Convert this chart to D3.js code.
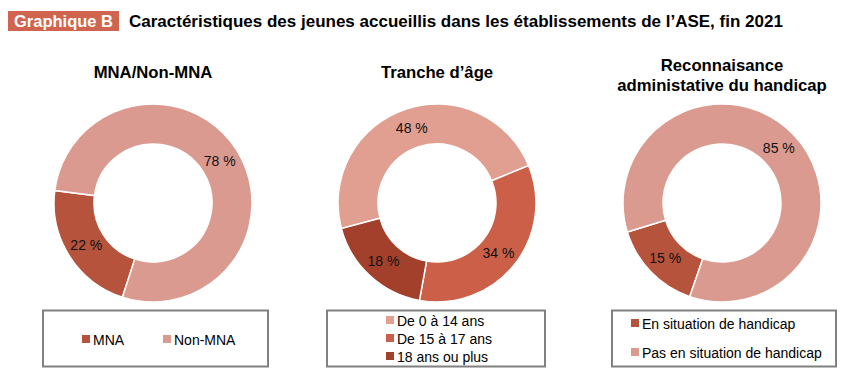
<!DOCTYPE html>
<html>
<head>
<meta charset="utf-8">
<script src="https://cdn.jsdelivr.net/npm/d3@7"></script>
<style>
  body { margin: 0; background: #fff; }
  text { font-family: "Liberation Sans", Arial, sans-serif; }
</style>
</head>
<body>
<svg id="chart" width="860" height="389"></svg>
<script>
// Data
const mnaLabels = ["MNA", "Non-MNA"];
const mnaValues = [22, 78];

const ageLabels = ["De 0 à 14 ans", "De 15 à 17 ans", "18 ans ou plus"];
const ageValues = [48, 34, 18];

const handiLabels = ["En situation de handicap", "Pas en situation de handicap"];
const handiValues = [15, 85];

const DONUTS = [
    {
        title: ["MNA/Non-MNA"],
        labels: mnaLabels,
        values: mnaValues,
        colors: ["#b5533c", "#db9a90"],
        cx: 153, startDeg: 198,
        legend: { x: 43, w: 225, layout: "row", xs: [82, 163], y: 339 },
    },
    {
        title: ["Tranche d’âge"],
        labels: ageLabels,
        values: ageValues,
        colors: ["#e19f92", "#cc5f48", "#a3402c"],
        cx: 437, startDeg: 255,
        legend: { x: 327, w: 218, layout: "col", x0: 386, ys: [320, 338, 356] },
    },
    {
        title: ["Reconnaisance", "administative du handicap"],
        labels: handiLabels,
        values: handiValues,
        colors: ["#b5533c", "#db9a90"],
        cx: 722, startDeg: 199,
        legend: { x: 612, w: 224, layout: "col", x0: 631, ys: [323, 352] },
    },
];

const svg = d3.select("#chart");
const cy = 203, rOuter = 99, rInner = 59;

// Header
svg.append("rect").attr("x", 8).attr("y", 11).attr("width", 111).attr("height", 20)
    .attr("fill", "#d0644e");
svg.append("text").attr("x", 63.5).attr("y", 27).attr("text-anchor", "middle")
    .attr("fill", "#fff").attr("font-weight", "bold").attr("font-size", 16.5)
    .text("Graphique B");
svg.append("text").attr("x", 129).attr("y", 27)
    .attr("fill", "#000").attr("font-weight", "bold").attr("font-size", 17)
    .text("Caractéristiques des jeunes accueillis dans les établissements de l’ASE, fin 2021");

DONUTS.forEach((c) => {
    const g = svg.append("g").attr("transform", `translate(${c.cx},${cy})`);

    const pie = d3.pie().sort(null)
        .startAngle(c.startDeg * Math.PI / 180)
        .endAngle(c.startDeg * Math.PI / 180 + 2 * Math.PI);
    const arc = d3.arc().innerRadius(rInner).outerRadius(rOuter);
    const arcs = pie(c.values);

    g.selectAll("path").data(arcs).join("path")
        .attr("d", arc)
        .attr("fill", (d, i) => c.colors[i])
        .attr("stroke", "#fff").attr("stroke-width", 1.5);

    g.selectAll("text.val").data(arcs).join("text")
        .attr("class", "val")
        .attr("transform", (d) => `translate(${arc.centroid(d)})`)
        .attr("text-anchor", "middle").attr("dy", "0.35em")
        .attr("font-size", 14).attr("fill", "#111")
        .text((d) => `${d.data} %`);

    // Title
    const t0 = c.title.length === 1 ? 78 : 71;
    c.title.forEach((line, i) => {
        svg.append("text").attr("x", c.cx).attr("y", t0 + i * 20)
            .attr("text-anchor", "middle").attr("font-weight", "bold")
            .attr("font-size", 16.7).attr("fill", "#000").text(line);
    });

    // Legend
    const L = c.legend;
    svg.append("rect").attr("x", L.x).attr("y", 310.5).attr("width", L.w).attr("height", 56)
        .attr("fill", "#fff").attr("stroke", "#808080").attr("stroke-width", 2);
    c.labels.forEach((lab, i) => {
        const mx = L.layout === "row" ? L.xs[i] : L.x0;
        const my = L.layout === "row" ? L.y : L.ys[i];
        svg.append("rect").attr("x", mx).attr("y", my - 4).attr("width", 8).attr("height", 8)
            .attr("fill", c.colors[i]);
        svg.append("text").attr("x", mx + 11).attr("y", my + 5.5)
            .attr("font-size", 14).attr("fill", "#000").text(lab);
    });
});
</script>
</body>
</html>
